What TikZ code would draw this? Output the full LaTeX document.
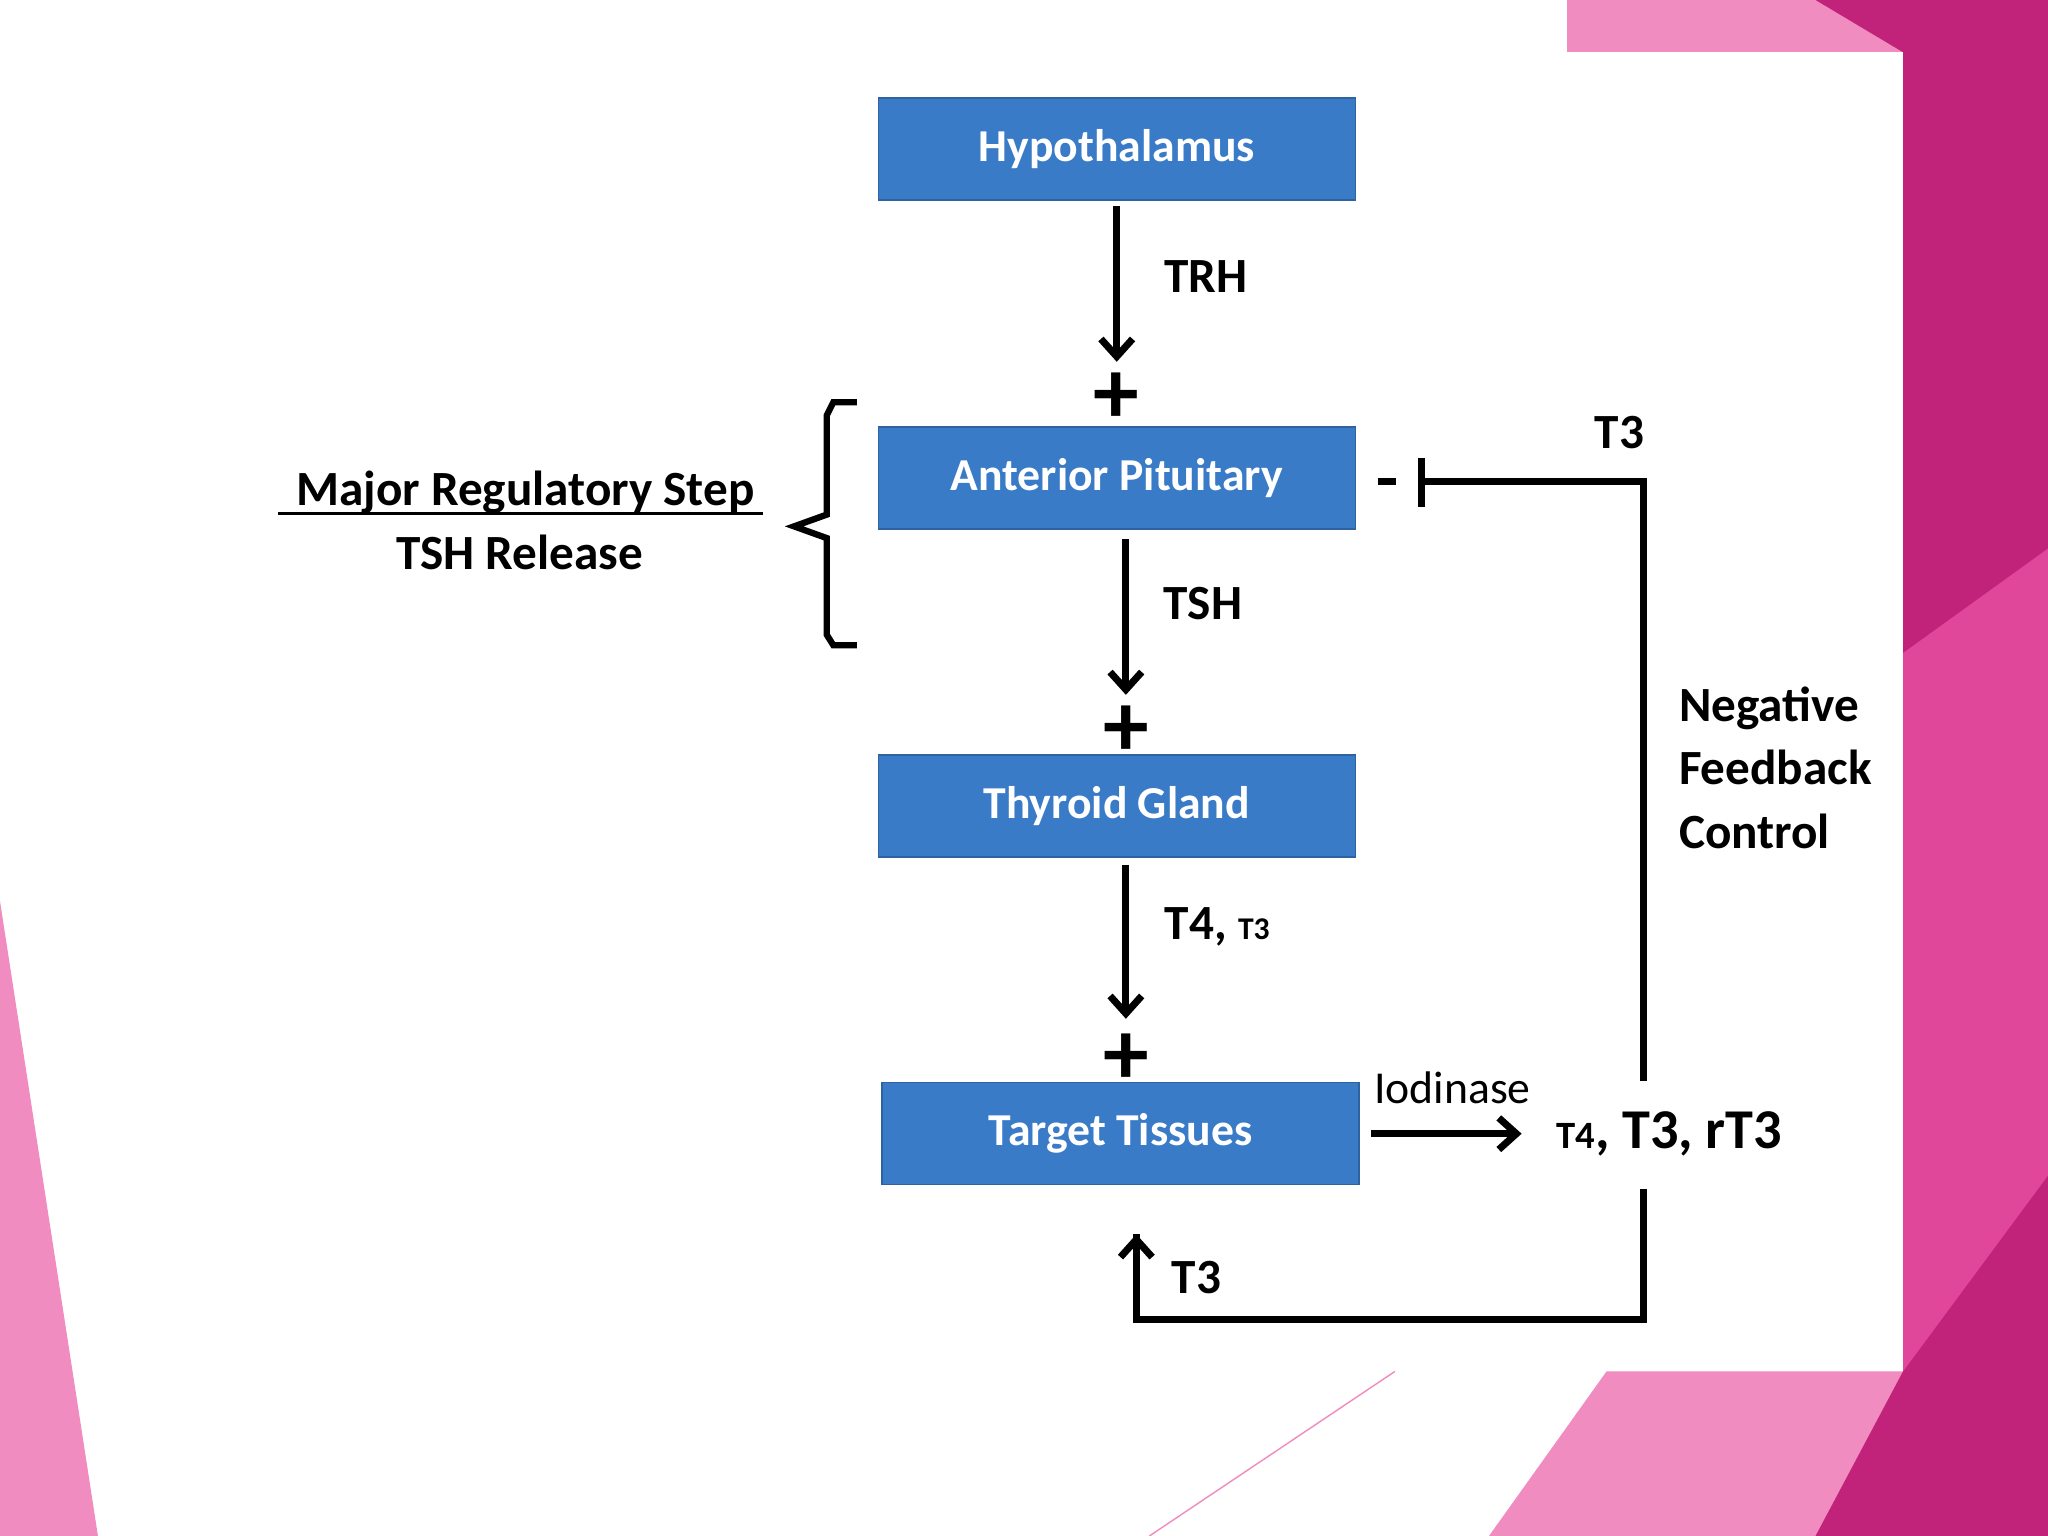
\documentclass[tikz,border=0pt]{standalone}
\usepackage{fontspec}
\setmainfont{Carlito}
\usetikzlibrary{arrows.meta,positioning}
\definecolor{boxblue}{HTML}{3A7BC8}
\definecolor{pinkA}{HTML}{F08CC0}
\definecolor{pinkB}{HTML}{C2237A}
\definecolor{pinkC}{HTML}{E0479A}
\tikzset{
  organ/.style={fill=boxblue, draw=boxblue!80!black, text=white, font=\bfseries\fontsize{13}{15}\selectfont,
    minimum width=4.77cm, minimum height=1.02cm, inner sep=0pt},
  lbl/.style={font=\bfseries\fontsize{14}{16}\selectfont},
  flow/.style={line width=2pt, -{Straight Barb[length=5pt,width=9pt,line width=2pt]}},
  fb/.style={line width=2pt}
}
\begin{document}
\begin{tikzpicture}[x=0.01306cm, y=-0.01306cm]
  % background
  \useasboundingbox (0,0) rectangle (1568,1176);
  \fill[white] (0,0) rectangle (1568,1176);
  \fill[pinkA] (1200,0) rectangle (1568,40);
  \fill[pinkA] (1140,1176) -- (1230,1050) -- (1568,1050) -- (1568,1176) -- cycle;
  \fill[pinkB] (1390,0) -- (1568,0) -- (1568,1176) -- (1390,1176) -- (1457,1050) -- (1457,40) -- cycle;
  \fill[pinkC] (1457,500) -- (1568,420) -- (1568,900) -- (1457,1050) -- cycle;
  \fill[white] (0,40) rectangle (1457,1050);
  \fill[pinkA] (0,690) -- (75,1176) -- (0,1176) -- cycle;
  \draw[pinkA] (880,1176) -- (1068,1050);

  % organs
  \node[organ] (hyp) at (855,114) {Hypothalamus};
  \node[organ] (pit) at (855,366) {Anterior Pituitary};
  \node[organ] (thy) at (855,617) {Thyroid Gland};
  \node[organ] (tis) at (858,868) {Target Tissues};

  % stimulating arrows
  \coordinate (a1) at (855,158); \coordinate (a2) at (855,277);
  \coordinate (b1) at (862,413); \coordinate (b2) at (862,532);
  \coordinate (c1) at (862,662); \coordinate (c2) at (862,780);
  \draw[flow] (a1) -- (a2);
  \draw[flow] (b1) -- (b2);
  \draw[flow] (c1) -- (c2);
  \node[lbl] (trh) at (923,212) {TRH};
  \node[lbl] (tsh) at (921,462) {TSH};
  \node[lbl] (t4) at (932,710) {T4, {\fontsize{9}{10}\selectfont T3}};
  \foreach \n/\x/\y in {p1/855/305, p2/862/560, p3/862/811}
    \node[font=\bfseries\fontsize{26}{26}\selectfont] (\n) at (\x,\y) {+};

  % iodinase
  \node[font=\fontsize{13}{15}\selectfont] (iod) at (1112,833) {Iodinase};
  \node[lbl, font=\bfseries\fontsize{16}{18}\selectfont] (prod) at (1278,868)
    {{\fontsize{11}{12}\selectfont T4}, T3, rT3};
  \draw[flow] (1050,868) -- (1165,868);

  % negative feedback
  \coordinate (f1) at (1258,828); \coordinate (f2) at (1258,369); \coordinate (f3) at (1088,369);
  \draw[fb] (f1) -- (f2) -- (f3);
  \draw[fb] (1088,351) -- (1088,388);
  \draw[fb] (1055,369) -- (1069,369);
  \node[lbl] (t3a) at (1240,331) {T3};
  \node[lbl, align=left, anchor=north west, inner sep=0pt, font=\bfseries\fontsize{14}{18.2}\selectfont] (neg) at (1285,525)
    {Negative\\Feedback\\Control};

  % T3 back to tissues
  \coordinate (g1) at (1258,910); \coordinate (g2) at (1258,1010);
  \coordinate (g3) at (870,1010); \coordinate (g4) at (870,945);
  \draw[fb] (g1) -- (g2) -- (g3) -- (g4);
  \draw[flow] (870,975) -- (g4);
  \node[lbl] (t3b) at (916,978) {T3};

  % regulatory step
  \draw[line width=1.8pt] (656,308) -- (638,308) -- (633,318) -- (633,394) -- (608,403)
    -- (633,412) -- (633,486) -- (638,494) -- (656,494);
  \node[lbl] (major) at (398,377) {\ Major Regulatory Step};
  \draw[line width=0.8pt] (213,393) -- (584,393);
  \node[lbl] (rel) at (398,423) {TSH Release};
\end{tikzpicture}
\end{document}
